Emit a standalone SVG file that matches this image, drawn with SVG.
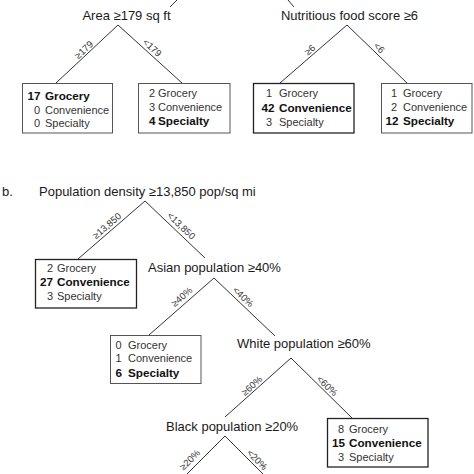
<svg xmlns="http://www.w3.org/2000/svg" width="474" height="474" viewBox="0 0 474 474">
<style>
.bg{fill:#fff}
.split{font-family:"Liberation Sans",Arial,sans-serif;font-size:13px;fill:#1a1a1a}
.reg{font-family:"Liberation Sans",Arial,sans-serif;font-size:11px;fill:#333}
.bold{font-family:"Liberation Sans",Arial,sans-serif;font-size:11.7px;font-weight:bold;fill:#111}
.num{text-anchor:end}
.box{fill:#fff;stroke:#555;stroke-width:1}
.boxd{fill:#fff;stroke:#222;stroke-width:1.3}
.edge{stroke:#333;stroke-width:1;fill:none}
.lbl{font-family:"Liberation Sans",Arial,sans-serif;font-size:9.5px;fill:#333;text-anchor:middle}
</style>
<rect class="bg" x="0" y="0" width="474" height="474"/>

<g id="connectors">
  <line class="edge" x1="170" y1="7" x2="177" y2="0"/>
  <line class="edge" x1="294" y1="7" x2="288" y2="0"/>
  <line class="edge" x1="118" y1="25" x2="56" y2="83"/>
  <line class="edge" x1="118" y1="25" x2="182" y2="83"/>
  <line class="edge" x1="347" y1="25" x2="280" y2="83"/>
  <line class="edge" x1="347" y1="25" x2="407" y2="83"/>
  <line class="edge" x1="145" y1="201" x2="78" y2="259"/>
  <line class="edge" x1="145" y1="201" x2="205" y2="258"/>
  <line class="edge" x1="214" y1="278" x2="149" y2="335"/>
  <line class="edge" x1="214" y1="278" x2="275" y2="336"/>
  <line class="edge" x1="291" y1="358" x2="225" y2="417"/>
  <line class="edge" x1="291" y1="358" x2="352" y2="418"/>
  <line class="edge" x1="225" y1="436" x2="187" y2="474"/>
  <line class="edge" x1="225" y1="436" x2="263" y2="474"/>
  <text class="lbl" transform="translate(84,50) rotate(-43)" y="3">≥179</text>
  <text class="lbl" transform="translate(152,48) rotate(42)" y="3">&lt;179</text>
  <text class="lbl" transform="translate(310,50) rotate(-41)" y="3">≥6</text>
  <text class="lbl" transform="translate(379,48) rotate(44)" y="3">&lt;6</text>
  <text class="lbl" transform="translate(107,226) rotate(-41)" y="3">≥13,850</text>
  <text class="lbl" transform="translate(181,226) rotate(43.5)" y="3">&lt;13,850</text>
  <text class="lbl" transform="translate(182,297) rotate(-41)" y="3">≥40%</text>
  <text class="lbl" transform="translate(243,297) rotate(43.6)" y="3">&lt;40%</text>
  <text class="lbl" transform="translate(252,386) rotate(-42)" y="3">≥60%</text>
  <text class="lbl" transform="translate(327,386) rotate(44)" y="3">&lt;60%</text>
  <text class="lbl" transform="translate(190,460) rotate(-45)" y="3">≥20%</text>
  <text class="lbl" transform="translate(257,460) rotate(45)" y="3">&lt;20%</text>
</g>

<g id="split-area">
  <text class="split" x="126.5" y="20" text-anchor="middle">Area ≥179 sq ft</text>
</g>
<g id="split-nutritious">
  <text class="split" x="349.5" y="20" text-anchor="middle">Nutritious food score ≥6</text>
</g>

<g id="leaf-a1">
  <rect class="box" x="22.5" y="83.5" width="90" height="49.5"/>
  <text class="bold num" x="40.5" y="100">17</text><text class="bold" x="45" y="100">Grocery</text>
  <text class="reg num" x="40" y="113.5">0</text><text class="reg" x="45" y="113.5">Convenience</text>
  <text class="reg num" x="40" y="127">0</text><text class="reg" x="45" y="127">Specialty</text>
</g>
<g id="leaf-a2">
  <rect class="box" x="138.5" y="83.5" width="91.5" height="49.5"/>
  <text class="reg num" x="155" y="97">2</text><text class="reg" x="158" y="97">Grocery</text>
  <text class="reg num" x="155" y="111">3</text><text class="reg" x="158" y="111">Convenience</text>
  <text class="bold num" x="155.5" y="125">4</text><text class="bold" x="158" y="125">Specialty</text>
</g>
<g id="leaf-a3">
  <rect class="boxd" x="253.5" y="83.5" width="100.5" height="49.5"/>
  <text class="reg num" x="272" y="97">1</text><text class="reg" x="279" y="97">Grocery</text>
  <text class="bold num" x="274.5" y="112">42</text><text class="bold" x="279" y="112">Convenience</text>
  <text class="reg num" x="272" y="126">3</text><text class="reg" x="279" y="126">Specialty</text>
</g>
<g id="leaf-a4">
  <rect class="box" x="381.5" y="83.5" width="90.5" height="49.5"/>
  <text class="reg num" x="397" y="97">1</text><text class="reg" x="403" y="97">Grocery</text>
  <text class="reg num" x="397" y="111">2</text><text class="reg" x="403" y="111">Convenience</text>
  <text class="bold num" x="398.5" y="125">12</text><text class="bold" x="403" y="125">Specialty</text>
</g>

<g id="panel-b-label">
  <text class="split" x="2" y="196">b.</text>
</g>
<g id="split-density">
  <text class="split" x="39" y="196">Population density ≥13,850 pop/sq mi</text>
</g>
<g id="leaf-b1">
  <rect class="boxd" x="35.5" y="259.5" width="101" height="48.5"/>
  <text class="reg num" x="53" y="272">2</text><text class="reg" x="57" y="272">Grocery</text>
  <text class="bold num" x="53" y="286">27</text><text class="bold" x="57" y="286">Convenience</text>
  <text class="reg num" x="53" y="300">3</text><text class="reg" x="57" y="300">Specialty</text>
</g>
<g id="split-asian">
  <text class="split" x="148" y="272">Asian population ≥40%</text>
</g>
<g id="leaf-b2">
  <rect class="box" x="110.5" y="335.5" width="90.5" height="48"/>
  <text class="reg num" x="121.5" y="349">0</text><text class="reg" x="128" y="349">Grocery</text>
  <text class="reg num" x="121.5" y="362">1</text><text class="reg" x="128" y="362">Convenience</text>
  <text class="bold num" x="122" y="377">6</text><text class="bold" x="128" y="377">Specialty</text>
</g>
<g id="split-white">
  <text class="split" x="237" y="348">White population ≥60%</text>
</g>
<g id="leaf-b3">
  <rect class="boxd" x="327.5" y="418.5" width="100.5" height="48.5"/>
  <text class="reg num" x="344" y="433">8</text><text class="reg" x="349" y="433">Grocery</text>
  <text class="bold num" x="345" y="447">15</text><text class="bold" x="349" y="447">Convenience</text>
  <text class="reg num" x="344" y="461">3</text><text class="reg" x="349" y="461">Specialty</text>
</g>
<g id="split-black">
  <text class="split" x="166" y="431">Black population ≥20%</text>
</g>
</svg>
